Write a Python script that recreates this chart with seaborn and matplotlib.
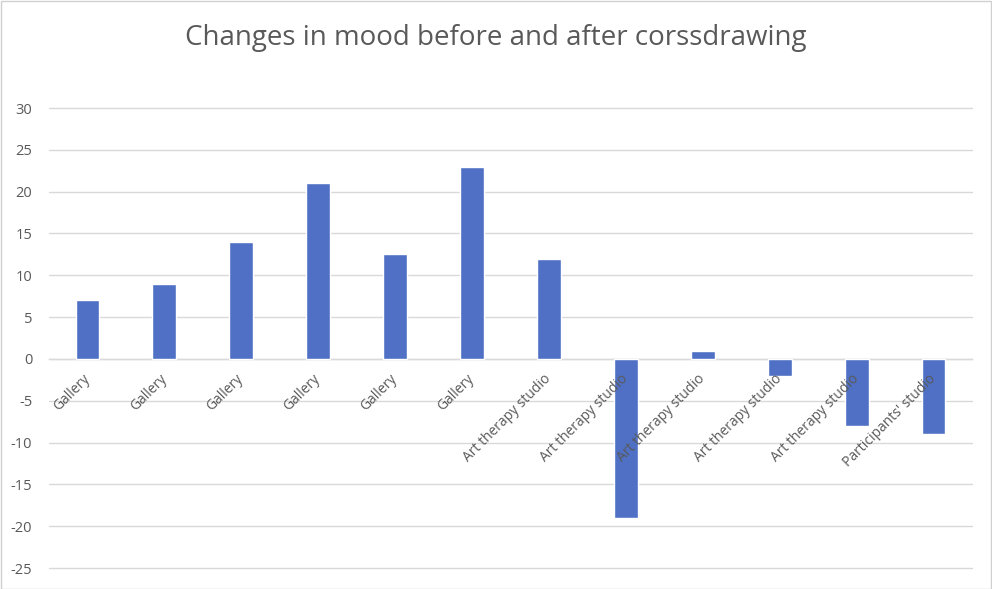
import matplotlib
matplotlib.use("Agg")
import matplotlib.pyplot as plt
import seaborn as sns
import pandas as pd
from matplotlib.patches import Rectangle

categories = ["Gallery", "Gallery", "Gallery", "Gallery", "Gallery", "Gallery",
              "Art therapy studio", "Art therapy studio", "Art therapy studio",
              "Art therapy studio", "Art therapy studio", "Participants' studio"]
values = [7, 9, 14, 21, 12.5, 23, 12, -19, 1, -2, -8, -9]
yticks = [-25, -20, -15, -10, -5, 0, 5, 10, 15, 20, 25, 30]
title = "Changes in mood before and after corssdrawing"

sns.set_theme(style="white")
plt.rcParams["font.family"] = ["Open Sans", "DejaVu Sans"]
plt.rcParams["axes.unicode_minus"] = False

df = pd.DataFrame({"idx": list(range(len(values))), "value": values})

fig = plt.figure(figsize=(9.92, 5.89), dpi=100)
ax = fig.add_axes([49 / 992, 1 - 568 / 589, (972 - 49) / 992, (568 - 108) / 589])

sns.barplot(data=df, x="idx", y="value", color="#4F70C4", saturation=1,
            width=0.31, ax=ax, zorder=2)

ax.set_ylim(-25, 30)
ax.set_xlim(-0.5, len(values) - 0.5)
ax.set_yticks(yticks)
ax.set_yticklabels([str(t) for t in yticks])
ax.yaxis.grid(True, color="#D9D9D9", linewidth=1.0)
ax.set_axisbelow(True)
for line in ax.get_ygridlines():
    line.set_clip_on(False)
for s in ["top", "right", "left"]:
    ax.spines[s].set_visible(False)
ax.spines["bottom"].set_position(("data", 0))
ax.spines["bottom"].set_color("#D9D9D9")
ax.spines["bottom"].set_linewidth(1.0)
ax.spines["bottom"].set_zorder(1)

ax.set_xticks(range(len(values)))
ax.set_xticklabels(categories, rotation=45, ha="right", va="center",
                   rotation_mode="anchor")
ax.tick_params(axis="x", length=0, pad=13, labelsize=10, labelcolor="#595959")
ax.tick_params(axis="y", length=0, pad=12, labelsize=10.5, labelcolor="#595959")
ax.xaxis.set_zorder(5)
ax.set_xlabel("")
ax.set_ylabel("")

fig.text(0.5, 1 - 38 / 589, title, ha="center", va="center",
         fontsize=20, color="#595959")

fig.patches.append(Rectangle((0.5 / 992, 0.5 / 589), 1 - 1.5 / 992, 1 - 1.5 / 589,
                             transform=fig.transFigure, fill=False,
                             edgecolor="#D0D0D0", linewidth=1.0))

fig.savefig("out.png", dpi=100)
